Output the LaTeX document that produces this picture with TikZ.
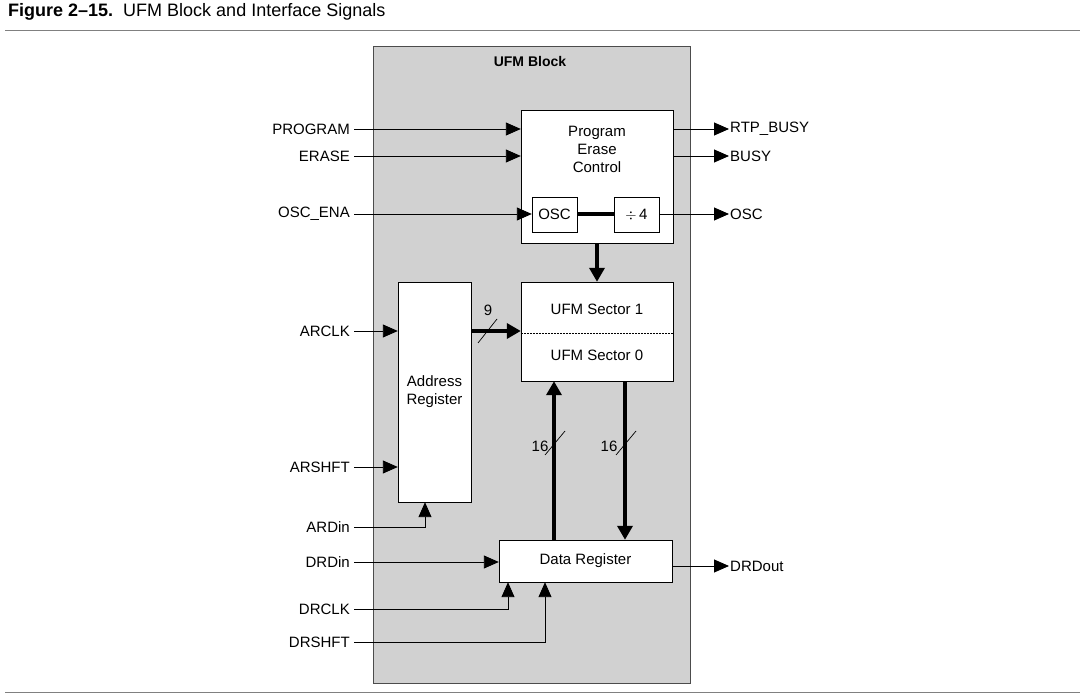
\documentclass[tikz,border=0pt]{standalone}
\usepackage{fontspec}
\setmainfont{Liberation Sans}
\usetikzlibrary{arrows.meta}
\begin{document}
\begin{tikzpicture}[x=1pt, y=-1pt, every node/.style={font=\fontsize{15}{18}\selectfont}]
        \tikzstyle{boxStyle} = [draw=black, fill=white, inner sep=0pt]
        \tikzstyle{sig} = [draw=black, line width=0.9pt, -{Triangle[length=15pt,width=13pt]}]
        \tikzstyle{bus} = [draw=black, line width=4pt, -{Triangle[length=14pt,width=15pt]}]
        \useasboundingbox (0,0) rectangle (1080,700);
        % title and rules
        \node[anchor=west, inner sep=0pt] (title) at (8,12) {\fontsize{18}{20}\selectfont\textbf{Figure 2--15.}\ \ UFM Block and Interface Signals};
        \draw[gray, line width=1pt] (5,31) -- (1080,31);
        \draw[gray, line width=1pt] (5,692) -- (1080,692);
        % block outline
        \node[draw=black!70, fill=black!18, line width=1pt, minimum width=317pt, minimum height=636pt, inner sep=0pt] (ufm) at (531.5,365) {};
        \node (ufmlabel) at (530,62) {\fontsize{14}{16}\selectfont\textbf{UFM Block}};
        % inner boxes
        \node[boxStyle, minimum width=152pt, minimum height=133pt] (pec) at (597,176.5) {};
        \node[align=center] (pectext) at (597,149) {Program\\Erase\\Control};
        \node[boxStyle, minimum width=45pt, minimum height=35pt] (osc) at (554.5,214.5) {OSC};
        \node[boxStyle, minimum width=45pt, minimum height=35pt] (div) at (636.5,214.5) {$\div$\,4};
        \draw[line width=4pt] (osc) -- (div);
        \node[boxStyle, minimum width=152pt, minimum height=99pt] (sec) at (597,331.5) {};
        \node (sec1) at (597,309) {UFM Sector 1};
        \node (sec0) at (597,355) {UFM Sector 0};
        \draw[line width=0.6pt, dash pattern=on 2pt off 1pt] (sec.west |- 0,333) coordinate (dl) -- (sec.east |- 0,333) coordinate (dr);
        \node[boxStyle, minimum width=73pt, minimum height=220pt, align=center] (addr) at (434.5,392) {Address\\Register};
        \node[boxStyle, minimum width=173pt, minimum height=42pt] (data) at (585.5,561) {Data Register};
        % inputs
        \foreach \name/\y/\tgt in {PROGRAM/129/pec, ERASE/156/pec, OSC\_ENA/214/osc} {
            \node[anchor=east, inner sep=0pt] (in\y) at (350,\y) {\name};
            \path[sig] (in\y.east) ++(4,0) -- (\tgt.west |- 0,\y);
        }
        \foreach \name/\y in {ARCLK/331, ARSHFT/467} {
            \node[anchor=east, inner sep=0pt] (in\y) at (350,\y) {\name};
            \path[sig] (in\y.east) ++(4,0) -- (addr.west |- 0,\y);
        }
        \node[anchor=east, inner sep=0pt] (ardin) at (350,527) {ARDin};
        \path[sig] (ardin.east) ++(4,0) -| (addr.south -| 425,0);
        \node[anchor=east, inner sep=0pt] (drdin) at (350,562) {DRDin};
        \path[sig] (drdin.east) ++(4,0) -- (data.west |- 0,562);
        \node[anchor=east, inner sep=0pt] (drclk) at (350,609) {DRCLK};
        \path[sig] (drclk.east) ++(4,0) -| (data.south -| 508,0);
        \node[anchor=east, inner sep=0pt] (drshft) at (350,642) {DRSHFT};
        \path[sig] (drshft.east) ++(4,0) -| (data.south -| 545,0);
        % outputs
        \foreach \name/\y/\src in {RTP\_BUSY/129/pec, BUSY/156/pec, OSC/214/div} {
            \node[anchor=west, inner sep=0pt] (out\y) at (730,\y) {\name};
            \path[sig] (\src.east |- 0,\y) -- ([xshift=-1pt]out\y.west);
        }
        \node[anchor=west, inner sep=0pt] (drdout) at (730,566) {DRDout};
        \path[sig] (data.east |- 0,566) -- ([xshift=-1pt]drdout.west);
        % buses
        \path[bus] (pec.south) -- (sec.north);
        \path[bus] (addr.east |- 0,331) -- (sec.west |- 0,331);
        \draw[line width=0.7pt] (478,343) -- (497,319);
        \node (b9) at (488,310) {9};
        \path[bus] (data.north -| 554,0) -- (sec.south -| 554,0);
        \draw[line width=0.7pt] (545,455) -- (565,431);
        \node (b16a) at (540,446) {16};
        \path[bus] (sec.south -| 625,0) -- (data.north -| 625,0);
        \draw[line width=0.7pt] (616,455) -- (636,431);
        \node (b16b) at (609,446) {16};
\end{tikzpicture}
\end{document}
